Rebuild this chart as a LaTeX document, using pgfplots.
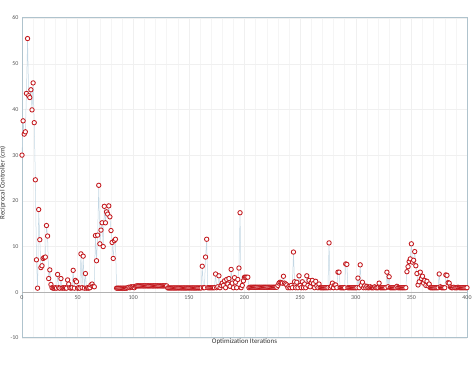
\documentclass[border=0pt]{standalone}
\usepackage{pgfplots}
\pgfplotsset{compat=1.18}
\usepackage{fontspec}
\setmainfont{Carlito}
\definecolor{frame}{RGB}{175,195,205}
\definecolor{conn}{RGB}{195,215,228}
\definecolor{mk}{RGB}{195,25,30}
\definecolor{tk}{RGB}{90,90,90}
\begin{document}
\begin{tikzpicture}
\begin{axis}[
  scale only axis, width=445bp, height=320bp,
  xmin=0, xmax=400, ymin=-10, ymax=60,
  xtick={0,50,...,400}, ytick={-10,0,...,60},
  minor x tick num=4,
  major tick length=0pt, minor tick length=0pt,
  axis line style={frame, line width=1bp},
  xmajorgrids, ymajorgrids, xminorgrids,
  major grid style={gray!12, line width=0.4bp},
  minor grid style={gray!8, line width=0.3bp},
  extra y ticks={0}, extra y tick labels={},
  extra y tick style={grid=major, major grid style={gray!60, line width=0.6bp}},
  ticklabel style={font=\fontsize{6}{7}\selectfont, text=tk},
  /pgf/number format/assume math mode=true,
  xticklabel style={yshift=45.7bp},
  xlabel={Optimization Iterations}, ylabel={Reciprocal Controller (cm)},
  label style={font=\fontsize{7}{8}\selectfont, text=black!80},
  xlabel style={yshift=3bp},
  ylabel style={at={(ticklabel cs:0.485)}, yshift=-2bp},
  clip=false,
]
\coordinate (bl) at (rel axis cs:0,0);
\coordinate (tr) at (rel axis cs:1,1);
\addplot[conn, line width=0.5bp, mark=*, mark size=2.2bp,
  mark options={draw=mk, fill=white, line width=0.85bp}] table {
x y
0 30
1 37.5
2 34.6
3 35.1
4 43.5
5 55.5
6 43
7 42.6
8 44.3
9 39.9
10 45.8
11 37.1
12 24.6
13 7.1
14 0.9
15 18.1
16 11.5
17 5.4
18 5.8
19 7.4
20 7.6
21 7.7
22 14.6
23 12.3
24 3.0
25 4.9
26 1.7
27 1.0
28 0.9
29 0.9
30 1.0
31 0.9
32 3.9
33 1.0
34 0.9
35 3.0
36 0.9
37 1.0
38 0.9
39 1.0
40 0.9
41 2.7
42 1.8
43 1.0
44 0.9
45 1.0
46 4.8
47 0.9
48 2.6
49 2.3
50 0.9
51 1.0
52 0.9
53 8.4
54 1.0
55 7.9
56 0.9
57 4.1
58 0.9
59 1.0
60 0.9
61 1.0
62 1.6
63 1.8
64 1.3
65 1.2
66 12.4
67 6.9
68 12.5
69 23.4
70 10.6
71 13.6
72 15.2
73 10.0
74 18.8
75 15.2
76 17.6
77 17.1
78 18.9
79 16.5
80 13.5
81 10.9
82 7.4
83 11.3
84 11.6
85 0.9
86 0.9
87 0.9
88 0.9
89 0.9
90 0.9
91 0.9
92 0.9
93 0.9
94 0.9
95 1.0
96 1.1
97 1.0
98 1.2
99 1.1
100 1.2
101 1.0
102 1.3
103 1.4
104 1.4
105 1.4
106 1.4
107 1.4
108 1.4
109 1.4
110 1.4
111 1.4
112 1.4
113 1.4
114 1.4
115 1.4
116 1.4
117 1.4
118 1.4
119 1.4
120 1.4
121 1.4
122 1.4
123 1.4
124 1.4
125 1.4
126 1.4
127 1.4
128 1.4
129 1.4
130 1.4
131 0.95
132 0.95
133 0.95
134 0.95
135 0.95
136 0.95
137 0.95
138 0.95
139 0.95
140 0.95
141 0.95
142 0.95
143 0.95
144 0.95
145 0.95
146 0.95
147 0.95
148 0.95
149 0.95
150 0.95
151 0.95
152 0.95
153 0.95
154 0.95
155 0.95
156 0.95
157 0.95
158 0.95
159 0.95
160 0.95
161 0.95
162 5.7
163 1.0
164 1.0
165 7.7
166 11.6
167 1.0
168 1.0
169 1.0
170 1.0
171 1.0
172 1.0
173 1.0
174 4.0
175 1.0
176 1.2
177 3.6
178 1.0
179 1.5
180 2.0
181 1.5
182 2.5
183 1.0
184 2.8
185 1.8
186 3.0
187 1.3
188 5.0
189 2.0
190 1.0
191 3.2
192 2.2
193 1.0
194 2.8
195 5.3
196 17.4
197 1.0
198 1.5
199 2.5
200 3.3
201 3.3
202 3.3
203 3.3
204 1.0
205 1.1
206 1.1
207 1.1
208 1.1
209 1.1
210 1.1
211 1.1
212 1.1
213 1.1
214 1.1
215 1.1
216 1.1
217 1.1
218 1.1
219 1.1
220 1.1
221 1.1
222 1.1
223 1.1
224 1.1
225 1.1
226 1.1
227 1.1
228 1.1
229 1.1
230 1.5
231 2.0
232 2.2
233 2.1
234 2.0
235 3.5
236 2.0
237 1.8
238 1.6
239 1.0
240 1.3
241 1.0
242 1.5
243 1.0
244 8.8
245 2.3
246 1.0
247 2.2
248 1.0
249 3.6
250 1.5
251 1.0
252 2.3
253 1.0
254 1.8
255 1.0
256 3.6
257 1.5
258 2.6
259 1.2
260 2.1
261 2.6
262 1.9
263 1.0
264 2.4
265 1.4
266 1.0
267 1.8
268 1.0
269 1.0
270 1.0
271 1.0
272 1.0
273 1.0
274 1.0
275 1.0
276 10.8
277 1.0
278 1.3
279 2.0
280 1.0
281 1.6
282 1.6
283 1.0
284 4.4
285 4.4
286 1.0
287 1.0
288 1.0
289 1.0
290 1.0
291 6.2
292 6.1
293 1.0
294 1.0
295 1.0
296 1.0
297 1.0
298 1.0
299 1.0
300 1.0
301 1.0
302 3.1
303 1.0
304 6.0
305 1.5
306 2.2
307 1.0
308 1.4
309 1.0
310 1.3
311 1.0
312 1.0
313 1.2
314 1.0
315 1.0
316 1.0
317 1.2
318 1.0
319 1.0
320 1.0
321 2.0
322 1.0
323 1.0
324 1.0
325 1.0
326 1.0
327 1.0
328 4.4
329 1.2
330 3.4
331 1.0
332 1.0
333 1.0
334 1.0
335 1.0
336 1.0
337 1.3
338 1.0
339 1.0
340 1.0
341 1.0
342 1.0
343 1.0
344 1.0
345 1.0
346 4.5
347 5.6
348 6.7
349 7.3
350 10.6
351 6.6
352 7.0
353 8.9
354 5.8
355 4.1
356 1.6
357 2.3
358 4.4
359 3.0
360 3.5
361 2.0
362 2.6
363 1.5
364 2.4
365 1.4
366 1.8
367 1.0
368 1.0
369 1.0
370 1.0
371 1.0
372 1.0
373 1.0
374 1.0
375 4.0
376 1.2
377 1.0
378 1.0
379 1.0
380 1.0
381 3.8
382 3.7
383 2.1
384 2.0
385 1.2
386 1.0
387 1.0
388 1.1
389 1.0
390 1.0
391 1.0
392 1.1
393 1.0
394 1.0
395 1.0
396 1.0
397 1.0
398 1.0
399 1.0
400 1.0
};
\end{axis}
\pgfresetboundingbox
\path[use as bounding box] ([shift={(-22bp,-28bp)}]bl) rectangle ([shift={(7bp,18bp)}]tr);
\end{tikzpicture}
\end{document}
